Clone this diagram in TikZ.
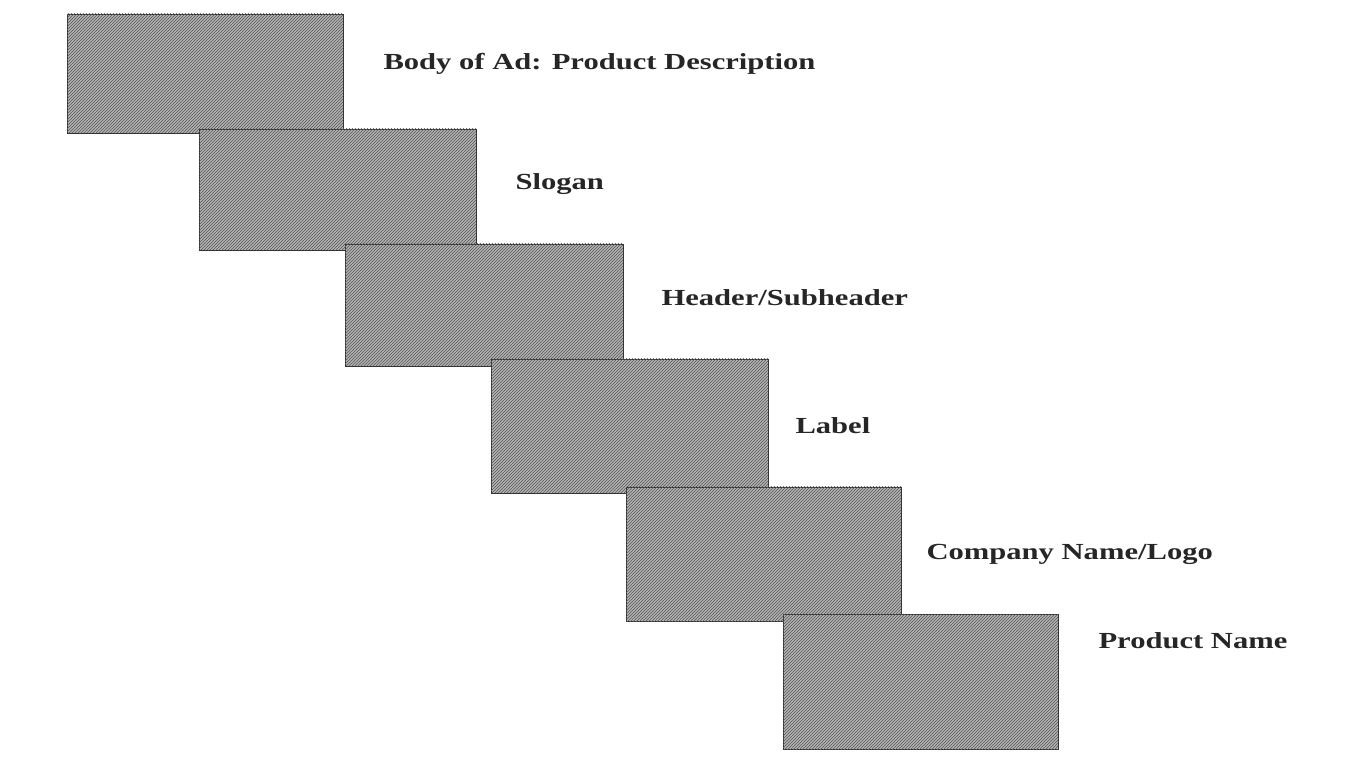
\documentclass[tikz,border=0pt]{standalone}
\usepackage{fontspec}
\setmainfont{Liberation Serif}
\usetikzlibrary{patterns}
\newcommand{\wide}[1]{\scalebox{1.33}[1]{#1}}
\begin{document}
\begin{tikzpicture}[x=1pt,y=-1pt,
  hbox/.style={draw=black!80,line width=0.8pt,fill=black!30,postaction={pattern=north east lines,pattern color=black!65}},
  lbl/.style={anchor=west,font=\fontsize{23}{26}\selectfont\bfseries,text=black!85}]
\useasboundingbox (0,0) rectangle (1361,775);
\fill[white] (0,0) rectangle (1361,775);
\draw[hbox] (67,14) rectangle (343,133);
\draw[hbox] (199,129) rectangle (476,250);
\draw[hbox] (345,244) rectangle (623,366);
\draw[hbox] (491,359) rectangle (768,493);
\draw[hbox] (626,487) rectangle (901,621);
\draw[hbox] (783,614) rectangle (1058,749);
\node[lbl] (t1) at (380,64) {\wide{Body of Ad: Product Description}};
\node[lbl] (t2) at (512,184) {\wide{Slogan}};
\node[lbl] (t3) at (658,298) {\wide{Header/Subheader}};
\node[lbl] (t4) at (792,426) {\wide{Label}};
\node[lbl] (t5) at (923,554) {\wide{Company Name/Logo}};
\node[lbl] (t6) at (1095,641) {\wide{Product Name}};
\end{tikzpicture}
\end{document}
